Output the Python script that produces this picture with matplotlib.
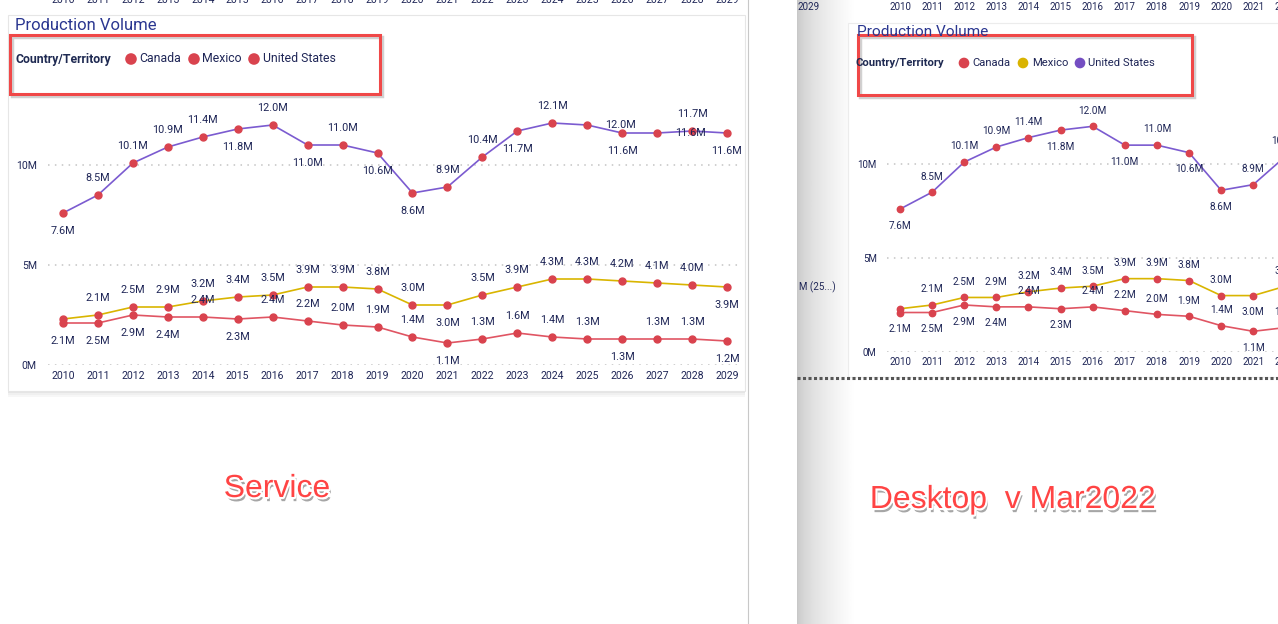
import matplotlib
matplotlib.use("Agg")
import matplotlib.pyplot as plt
import matplotlib.patheffects as pe
from matplotlib.patches import Rectangle, Circle
from matplotlib.transforms import blended_transform_factory
import numpy as np

W, H = 1278, 624

# ------------------ data ------------------
years = list(range(2010, 2030))
canada = [2.1, 2.1, 2.5, 2.4, 2.4, 2.3, 2.4, 2.2, 2.0, 1.9,
          1.4, 1.1, 1.3, 1.6, 1.4, 1.3, 1.3, 1.3, 1.3, 1.2]
mexico = [2.3, 2.5, 2.9, 2.9, 3.2, 3.4, 3.5, 3.9, 3.9, 3.8,
          3.0, 3.0, 3.5, 3.9, 4.3, 4.3, 4.2, 4.1, 4.0, 3.9]
united_states = [7.6, 8.5, 10.1, 10.9, 11.4, 11.8, 12.0, 11.0, 11.0, 10.6,
                 8.6, 8.9, 10.4, 11.7, 12.1, 12.0, 11.6, 11.6, 11.7, 11.6]

# data labels as they are shown in the visual
canada_labels = ["2.1M", "2.5M", "2.9M", "2.4M", "2.4M", "2.3M", "2.4M", "2.2M", "2.0M", "1.9M",
                 "1.4M", "1.1M", "1.3M", "1.6M", "1.4M", "1.3M", "1.3M", "1.3M", "1.3M", "1.2M"]
mexico_labels = ["", "2.1M", "2.5M", "2.9M", "3.2M", "3.4M", "3.5M", "3.9M", "3.9M", "3.8M",
                 "3.0M", "3.0M", "3.5M", "3.9M", "4.3M", "4.3M", "4.2M", "4.1M", "4.0M", "3.9M"]
us_labels = ["7.6M", "8.5M", "10.1M", "10.9M", "11.4M", "11.8M", "12.0M", "11.0M", "11.0M", "10.6M",
             "8.6M", "8.9M", "10.4M", "11.7M", "12.1M", "12.0M", "11.6M", "11.6M", "11.7M", "11.6M"]

countries = ["Canada", "Mexico", "United States"]
y_ticks = [0, 5, 10]
y_tick_labels = ["0M", "5M", "10M"]

# label placement: a = above, b = below, r = pushed right, - = hidden
canada_pos = "bbbbabaaaaabaaaabaab"
mexico_pos = "-aaaaaaaaaabaaaaaaab"
us_pos = "baaaababab" + "baabarbrab"

# ------------------ styles ------------------
LINE_COLORS = ["#e05563", "#d9b500", "#7b5bd0"]
DOT = "#d9434e"
NAVY = "#1f2657"
TITLE = "#2a3690"
FONT = "Roboto"
PT = 0.72  # points per pixel at dpi 100

fig = plt.figure(figsize=(W / 100, H / 100), dpi=100)

# background layer in pixel coordinates
bg = fig.add_axes([0, 0, 1, 1])
bg.set_xlim(0, W)
bg.set_ylim(H, 0)
bg.axis("off")
bg.set_zorder(0)

# left card with soft shadow
for i, a in enumerate([0.10, 0.06, 0.03]):
    bg.add_patch(Rectangle((8, 391 + i * 2), 737, 2, color="#000000", alpha=a, lw=0))
bg.add_patch(Rectangle((8, 15), 737, 376, facecolor="white", edgecolor="#e6e6e6", lw=0.8))
bg.plot([748, 748], [0, H], color="#c8c8c8", lw=0.8)

# shadow gradient of the desktop page
grad = np.linspace(0, 1, 120) ** 0.6
grad = np.vstack([grad, grad])
bg.imshow(grad, cmap="gray", vmin=-3.5, vmax=1, extent=(797, 855, H, 0), aspect="auto")
bg.add_patch(Rectangle((848, 23), 440, 354, facecolor="white", edgecolor="#ececec", lw=0.8))
bg.plot([797, W], [378, 378], color="#555555", lw=2.2, ls=(0, (1, 0.8)))
bg.text(799, 287, "M (25...)", fontsize=7, color=NAVY, family=FONT, va="center")


def draw_chart(rect, xlim, ylim, s):
    ax = fig.add_axes(rect)
    ax.set_zorder(1)
    ax.patch.set_alpha(0)
    ax.set_xlim(*xlim)
    ax.set_ylim(*ylim)
    for sp in ax.spines.values():
        sp.set_visible(False)
    ax.set_yticks(y_ticks)
    ax.set_yticklabels(y_tick_labels)
    ax.set_xticks(years)
    ax.set_xticklabels([str(y) for y in years])
    ax.tick_params(length=0, labelsize=7.6 * s, labelcolor=NAVY)
    ax.tick_params(axis="y", pad=8 * s)
    ax.tick_params(axis="x", pad=4 * s)
    for t in ax.get_xticklabels() + ax.get_yticklabels():
        t.set_family(FONT)
    ax.grid(axis="y", color="#c4c4c4", lw=1.1, ls=(0, (1, 3.5)))
    ax.grid(axis="x", visible=False)
    ax.set_axisbelow(True)

    series = [(canada, canada_labels, canada_pos),
              (mexico, mexico_labels, mexico_pos),
              (united_states, us_labels, us_pos)]
    for (vals, labels, pos), col in zip(series, LINE_COLORS):
        ax.plot(years, vals, color=col, lw=1.2, zorder=2)
        ax.plot(years, vals, "o", color=DOT, ms=5.0 * s, zorder=3)
        for x, v, lab, p in zip(years, vals, labels, pos):
            if p == "-":
                continue
            dx, dy = {"a": (0, 17), "b": (0, -18), "r": (33, 0)}[p]
            ax.annotate(lab, (x, v), xytext=(dx * PT * s, dy * PT * s),
                        textcoords="offset points", ha="center", va="center",
                        fontsize=7.8 * s, color=NAVY, family=FONT, zorder=4)
    return ax


# Service chart (left) and Desktop chart (right, runs off the page)
ax_l = draw_chart([48 / W, 1 - 365 / H, (742 - 48) / W, (365 - 100) / H],
                  (2009.57, 2029.43), (0, 13.25), 1.0)
ax_r = draw_chart([887 / W, 1 - 352 / H, (1524 - 887) / W, (352 - 100) / H],
                  (2009.595, 2029.43), (0, 13.4), 0.92)

# year labels of the visuals above (the reference shows them cut by the page edge)
tl = blended_transform_factory(ax_l.transData, bg.transData)
tr = blended_transform_factory(ax_r.transData, bg.transData)
for y in years:
    ax_l.text(y, 3, str(y), transform=tl, ha="center", va="baseline",
              fontsize=7.6, color=NAVY, family=FONT, clip_on=False)
for y in years:
    ax_r.text(y, 7, str(y), transform=tr, ha="center", va="center",
              fontsize=7.0, color=NAVY, family=FONT, clip_on=False)
bg.text(797, 7, "2029", ha="left", va="center", fontsize=7.0, color=NAVY, family=FONT)

# foreground layer: titles, legends, red boxes, captions
fg = fig.add_axes([0, 0, 1, 1])
fg.set_xlim(0, W)
fg.set_ylim(H, 0)
fg.axis("off")
fg.patch.set_alpha(0)
fg.set_zorder(2)


def draw_header(tx, ty, lx, ly, dots_x, names_x, dot_colors, s):
    fg.text(tx, ty, "Production Volume", fontsize=12 * s, color=TITLE,
            family=FONT, va="center", ha="left")
    fg.text(lx, ly, "Country/Territory", fontsize=8.8 * s, color="#1f2a52",
            family=FONT, weight="bold", va="center", ha="left")
    for name, dxp, nxp, c in zip(countries, dots_x, names_x, dot_colors):
        fg.add_patch(Circle((dxp, ly), 5.8 * s, color=c, lw=0))
        fg.text(nxp, ly, name, fontsize=8.8 * s, color=NAVY, family=FONT,
                va="center", ha="left")


draw_header(15, 26, 15, 59, [131, 194, 254], [139, 202, 263], [DOT, DOT, DOT], 1.0)
draw_header(857, 32, 856, 63, [964, 1023, 1080], [972, 1032, 1088],
            ["#d9434e", "#d9b300", "#744ec2"], 0.92)

for (x0, y0, x1, y1) in [(9.5, 34.5, 380, 94), (857.5, 34.5, 1191.5, 95)]:
    fg.add_patch(Rectangle((x0 + 2, y0 + 2), x1 - x0, y1 - y0, fill=False,
                           edgecolor="#000000", alpha=0.18, lw=2.5))
    fg.add_patch(Rectangle((x0, y0), x1 - x0, y1 - y0, fill=False,
                           edgecolor="#f04848", lw=2.2))

caption_fx = [pe.SimplePatchShadow(offset=(1.5, -3), shadow_rgbFace="#000000", alpha=0.35),
              pe.Stroke(linewidth=3, foreground="white"), pe.Normal()]
fg.text(277, 489, "Service", fontsize=23, color="#ff4444", family="Liberation Sans",
        ha="center", va="center", path_effects=caption_fx)
fg.text(1013, 500, "Desktop  v Mar2022", fontsize=23, color="#ff4444",
        family="Liberation Sans", ha="center", va="center", path_effects=caption_fx)

fig.savefig("out.png", dpi=100)
